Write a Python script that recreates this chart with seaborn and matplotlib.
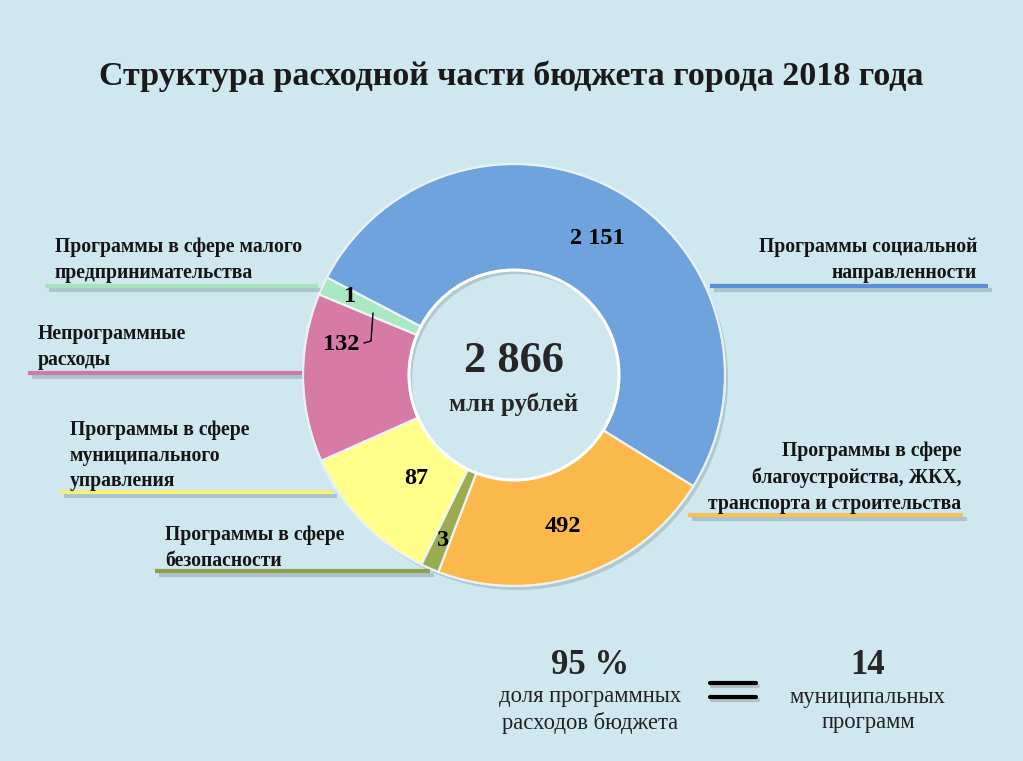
import matplotlib
matplotlib.use("Agg")
import matplotlib.pyplot as plt
import seaborn as sns

W, H = 1023, 761

# --- data ---
categories = [
    "Программы социальной\nнаправленности",
    "Программы в сфере\nблагоустройства, ЖКХ,\nтранспорта и строительства",
    "Программы в сфере\nбезопасности",
    "Программы в сфере\nмуниципального\nуправления",
    "Непрограммные\nрасходы",
    "Программы в сфере малого\nпредпринимательства",
]
values = [2151, 492, 3, 87, 132, 1]  # млн рублей
# arc length of each sector as drawn in the original, % of the ring
arc_share = [51.2, 22.0, 1.4, 11.1, 12.9, 1.4]
colors = ["#6ea3de", "#fbb94c", "#9aac4f", "#ffff8a", "#d87aa6", "#a9e8c3"]
line_colors = ["#5b8fd6", "#f3c25a", "#8e9f47", "#f2f27a", "#d079a2", "#a6e3bf"]

program_share = 95
program_count = 14

title = "Структура расходной части бюджета города 2018 года"


def fmt(v):
    return f"{v:,}".replace(",", " ")


def py(y):
    # pixel row (from top) -> axes y
    return H - y


sns.set_theme(style="white")
plt.rcParams["font.family"] = ["Liberation Serif", "DejaVu Serif"]

bg = "#cfe7ee"
fig = plt.figure(figsize=(W / 100, H / 100), dpi=100)
fig.patch.set_facecolor(bg)
ax = fig.add_axes([0, 0, 1, 1])
ax.set_facecolor(bg)

cx, cy, R, ring = 514, py(375), 211, 106

# soft shadow under the ring
ax.pie(arc_share, colors=["#7d8f96"] * len(arc_share), startangle=152.5,
       counterclock=False, center=(cx + 3, cy - 4), radius=R,
       wedgeprops=dict(width=ring, linewidth=0, alpha=0.35))
wedges, _ = ax.pie(arc_share, colors=colors, startangle=152.5,
                   counterclock=False, center=(cx, cy), radius=R,
                   wedgeprops=dict(width=ring, edgecolor="#eef4f5", linewidth=1.6))
# light rim on the hole and the outside
ax.add_patch(plt.Circle((cx, cy), R - ring, fill=False, ec="white", lw=2.2, zorder=3))
ax.add_patch(plt.Circle((cx, cy), R, fill=False, ec="#e9f1f3", lw=1.2, zorder=3))

ax.set_xlim(0, W)
ax.set_ylim(0, H)
ax.set_aspect("equal")
ax.axis("off")

# values on the ring
value_pos = [(597, 239), (563, 527), (443, 541), (416, 478), (341, 344), (350, 297)]
for v, (x, y) in zip(values, value_pos):
    ax.text(x, py(y), fmt(v), ha="center", va="center", fontsize=17.5,
            fontweight="bold", color="black", zorder=5)
ax.plot([373, 371, 364], [py(313), py(341), py(343)], color="black", lw=1, zorder=5)

# centre
ax.text(cx, py(361), fmt(sum(values)), ha="center", va="center",
        fontsize=32, fontweight="bold", zorder=5)
ax.text(cx, py(404), "млн рублей", ha="center", va="center",
        fontsize=18, fontweight="bold", zorder=5)

# callouts: text anchor x, first-line y, alignment, underline x0, x1, y
callouts = [
    (977, 246, "right", 710, 988, 286),
    (961, 452, "right", 688, 963, 515),
    (165, 534, "left", 155, 430, 571),
    (70, 430, "left", 60, 333, 492),
    (38, 333, "left", 28, 302, 373),
    (55, 246, "left", 45, 318, 286),
]
gap = 23.5
for label, lc, (tx, ty, ha, x0, x1, ly) in zip(categories, line_colors, callouts):
    n = label.count("\n") + 1
    ax.text(tx, py(ty + 2 + (n - 1) * gap / 2), label, ha=ha, va="center",
            fontsize=14.2, fontweight="bold", color="#151515", linespacing=1.38)
    ax.plot([x0 + 4, x1 + 4], [py(ly + 4), py(ly + 4)], color="#8fa3aa",
            lw=3, alpha=0.5, solid_capstyle="butt")
    ax.plot([x0, x1], [py(ly), py(ly)], color=lc, lw=3, solid_capstyle="butt")

# title
ax.text(W / 2, py(76), title, ha="center", va="center", fontsize=24.5,
        fontweight="bold", color="#1a1a1a")

# bottom summary
ax.text(590, py(665), f"{program_share} %", ha="center", va="center",
        fontsize=25, fontweight="bold")
ax.text(590, py(710), "доля программных\nрасходов бюджета", ha="center",
        va="center", fontsize=16.3, linespacing=1.3, color="#222222")
ax.text(868, py(665), str(program_count), ha="center", va="center",
        fontsize=25, fontweight="bold")
ax.text(868, py(710), "муниципальных\nпрограмм", ha="center",
        va="center", fontsize=16.3, linespacing=1.3, color="#222222")
for y in (683, 697):
    ax.plot([712, 758], [py(y + 3), py(y + 3)], color="#9aa6aa", lw=3, alpha=0.6)
    ax.plot([710, 756], [py(y), py(y)], color="black", lw=3)

fig.savefig("out.png", dpi=100, facecolor=bg)
